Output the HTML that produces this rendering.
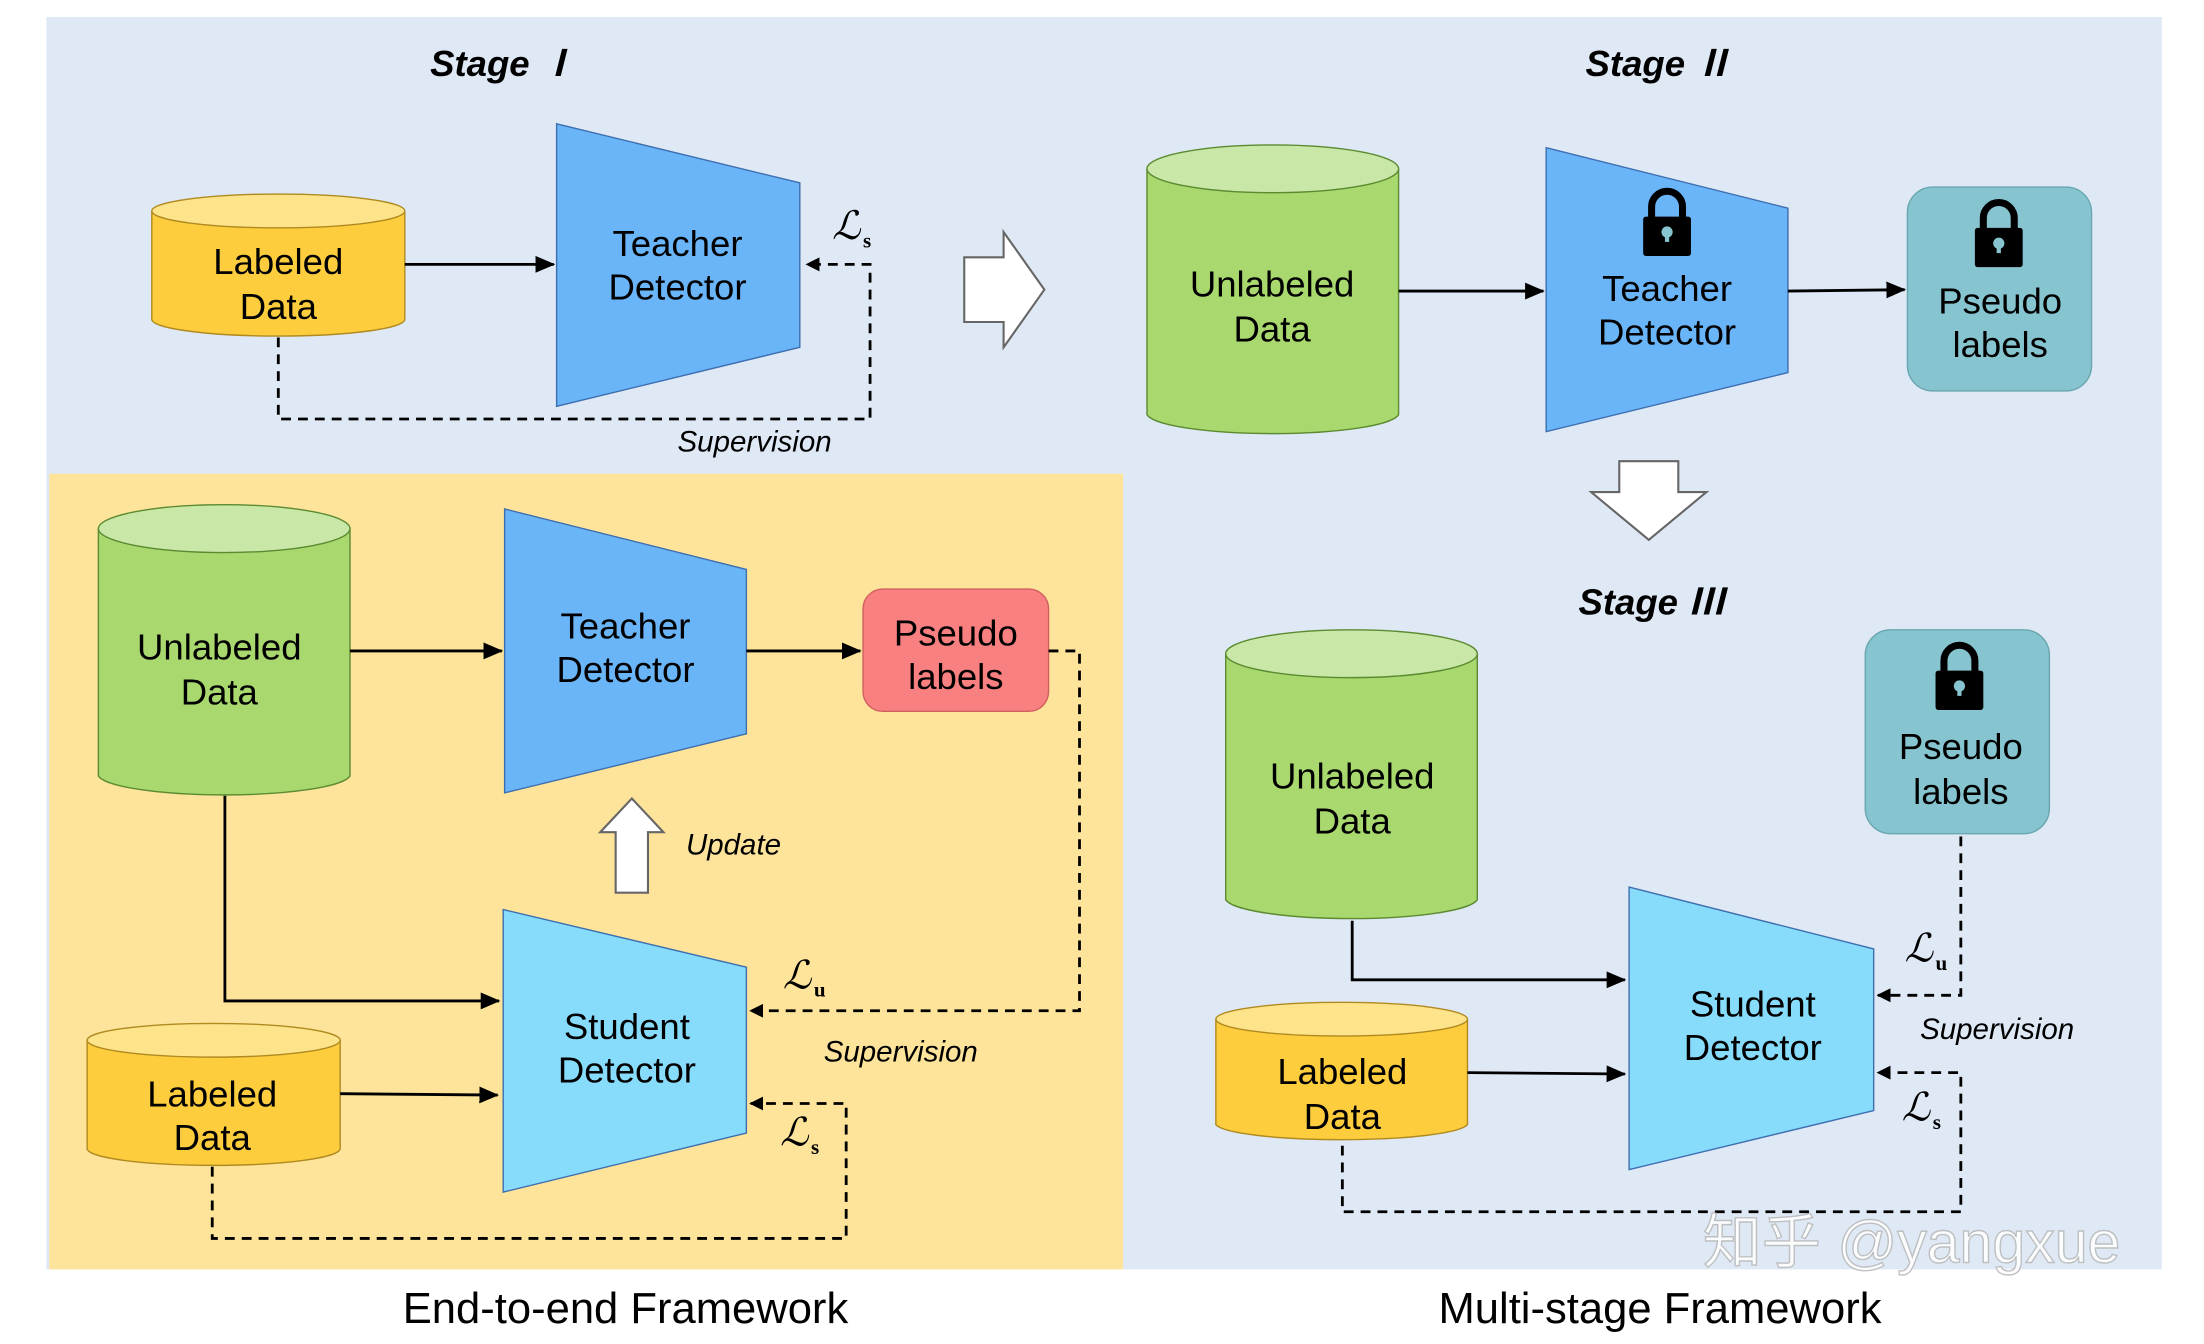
<!DOCTYPE html>
<html><head><meta charset="utf-8"><style>
html,body{margin:0;padding:0;background:#fff;}
svg{display:block;}
text{font-family:"Liberation Sans","Noto Sans CJK SC",sans-serif;}
.t{font-size:26px;text-anchor:middle;fill:#000;}
.it{font-style:italic;font-size:21px;fill:#000;}
.st{font-style:italic;font-weight:bold;font-size:26px;text-anchor:middle;}
.L{font-family:"Liberation Serif",serif;font-style:italic;font-size:28px;}
.sub{font-family:"Liberation Serif",serif;font-weight:bold;font-size:15px;}
</style></head><body>
<svg width="2204" height="1344" viewBox="0 0 1568 956" xmlns="http://www.w3.org/2000/svg">
<defs>
<marker id="a" markerWidth="10" markerHeight="10" refX="9" refY="5" orient="auto" markerUnits="userSpaceOnUse" viewBox="0 0 10 10"><path d="M0,0 L10,5 L0,10 z" fill="#000"/></marker>
<marker id="a2" markerWidth="14" markerHeight="12" refX="13" refY="6" orient="auto" markerUnits="userSpaceOnUse" viewBox="0 0 14 12"><path d="M0,0 L14,6 L0,12 z" fill="#000"/></marker>
<g id="lock">
<path d="M-11,0 V-8 A11,11 0 0 1 11,-8 V0" fill="none" stroke="#000" stroke-width="5"/>
<rect x="-17" y="-1" width="34" height="28" rx="2" fill="#000"/>
<circle cx="0" cy="10" r="4" fill="#86c5d0"/><rect x="-1.5" y="10" width="3" height="7" fill="#86c5d0"/>
</g>
</defs>
<rect x="0" y="0" width="1568" height="956" fill="#fff"/>
<rect x="33" y="12" width="1505" height="891" fill="#dfe9f5"/>
<rect x="35" y="337" width="764" height="566" fill="#fde49a"/>

<!-- Stage I -->
<text x="358" y="54" class="st">Stage Ⅰ</text>
<path d="M108,150 V227 A90,12 0 0 0 288,227 V150" fill="#fdcd3e" stroke="#b08a20" stroke-width="1"/>
<ellipse cx="198" cy="150" rx="90" ry="12" fill="#fde48a" stroke="#b08a20"/>
<text x="198" y="195" class="t">Labeled</text><text x="198" y="227" class="t">Data</text>
<polygon points="396,88 569,130 569,247 396,289" fill="#6ab4f8" stroke="#3d6fb0"/>
<text x="482" y="182" class="t">Teacher</text><text x="482" y="213" class="t">Detector</text>
<line x1="288" y1="188" x2="394" y2="188" stroke="#000" stroke-width="2" marker-end="url(#a2)"/>
<path d="M198,240 V298 H619 V188 H574" fill="none" stroke="#000" stroke-width="2" stroke-dasharray="7,5" marker-end="url(#a)"/>
<text x="592" y="170" class="L">ℒ</text><text x="614" y="176" class="sub">s</text>
<text x="482" y="321" class="it">Supervision</text>
<polygon points="686,183 714,183 714,165 743,206 714,247 714,229 686,229" fill="#fff" stroke="#666" stroke-width="1.5"/>

<!-- Stage II -->
<text x="1180" y="54" class="st">Stage Ⅱ</text>
<path d="M816,120 V295 A90,15 0 0 0 995,295 V120" fill="#a8d86e" stroke="#5b8a30"/>
<ellipse cx="905.5" cy="120" rx="89.5" ry="17" fill="#c9e8a8" stroke="#5b8a30"/>
<text x="905" y="211" class="t">Unlabeled</text><text x="905" y="243" class="t">Data</text>
<line x1="995" y1="207" x2="1098" y2="207" stroke="#000" stroke-width="2" marker-end="url(#a2)"/>
<polygon points="1100,105 1272,148 1272,265 1100,307" fill="#6ab4f8" stroke="#3d6fb0"/>
<use href="#lock" x="1186" y="155"/>
<text x="1186" y="214" class="t">Teacher</text><text x="1186" y="245" class="t">Detector</text>
<line x1="1272" y1="207" x2="1355" y2="206" stroke="#000" stroke-width="2" marker-end="url(#a2)"/>
<rect x="1357" y="133" width="131" height="145" rx="18" fill="#86c5d0" stroke="#6aa6b0"/>
<use href="#lock" x="1422" y="163"/>
<text x="1423" y="223" class="t">Pseudo</text><text x="1423" y="254" class="t">labels</text>
<polygon points="1152,328 1194,328 1194,350 1214,350 1173,384 1132,350 1152,350" fill="#fff" stroke="#666" stroke-width="1.5"/>

<!-- Stage III -->
<text x="1175" y="437" class="st">Stage Ⅲ</text>
<path d="M872,465 V640 A90,15 0 0 0 1051,640 V465" fill="#a8d86e" stroke="#5b8a30"/>
<ellipse cx="961.5" cy="465" rx="89.5" ry="17" fill="#c9e8a8" stroke="#5b8a30"/>
<text x="962" y="561" class="t">Unlabeled</text><text x="962" y="593" class="t">Data</text>
<rect x="1327" y="448" width="131" height="145" rx="18" fill="#86c5d0" stroke="#6aa6b0"/>
<use href="#lock" x="1394" y="478"/>
<text x="1395" y="540" class="t">Pseudo</text><text x="1395" y="572" class="t">labels</text>
<path d="M865,725 V800 A90,12 0 0 0 1044,800 V725" fill="#fdcd3e" stroke="#b08a20"/>
<ellipse cx="954.5" cy="725" rx="89.5" ry="12" fill="#fde48a" stroke="#b08a20"/>
<text x="955" y="771" class="t">Labeled</text><text x="955" y="803" class="t">Data</text>
<polygon points="1159,631 1333,675 1333,790 1159,832" fill="#87dcfc" stroke="#3d6fb0"/>
<text x="1247" y="723" class="t">Student</text><text x="1247" y="754" class="t">Detector</text>
<path d="M962,655 V697 H1156" fill="none" stroke="#000" stroke-width="2" marker-end="url(#a2)"/>
<line x1="1044" y1="763" x2="1156" y2="764" stroke="#000" stroke-width="2" marker-end="url(#a2)"/>
<path d="M1395,595 V708 H1336" fill="none" stroke="#000" stroke-width="2" stroke-dasharray="7,5" marker-end="url(#a)"/>
<path d="M955,815 V862 H1395 V763 H1336" fill="none" stroke="#000" stroke-width="2" stroke-dasharray="7,5" marker-end="url(#a)"/>
<text x="1355" y="684" class="L">ℒ</text><text x="1377" y="690" class="sub">u</text>
<text x="1366" y="739" class="it">Supervision</text>
<text x="1353" y="797" class="L">ℒ</text><text x="1375" y="803" class="sub">s</text>
<text x="1360" y="898" style="font-size:42px;fill:#fff;stroke:#bbb;stroke-width:1;text-anchor:middle;opacity:0.9">知乎 @yangxue</text>

<!-- End-to-end -->
<path d="M70,376 V552 A90,15 0 0 0 249,552 V376" fill="#a8d86e" stroke="#5b8a30"/>
<ellipse cx="159.5" cy="376" rx="89.5" ry="17" fill="#c9e8a8" stroke="#5b8a30"/>
<text x="156" y="469" class="t">Unlabeled</text><text x="156" y="501" class="t">Data</text>
<polygon points="359,362 531,405 531,522 359,564" fill="#6ab4f8" stroke="#3d6fb0"/>
<text x="445" y="454" class="t">Teacher</text><text x="445" y="485" class="t">Detector</text>
<line x1="249" y1="463" x2="357" y2="463" stroke="#000" stroke-width="2" marker-end="url(#a2)"/>
<line x1="531" y1="463" x2="612" y2="463" stroke="#000" stroke-width="2" marker-end="url(#a2)"/>
<rect x="614" y="419" width="132" height="87" rx="14" fill="#f88080" stroke="#d06060"/>
<text x="680" y="459" class="t">Pseudo</text><text x="680" y="490" class="t">labels</text>
<path d="M746,463 H768 V719 H534" fill="none" stroke="#000" stroke-width="2" stroke-dasharray="7,5" marker-end="url(#a)"/>
<polygon points="438,635 461,635 461,592 472,592 449.5,568 427,592 438,592" fill="#fff" stroke="#666" stroke-width="1.5"/>
<text x="488" y="608" class="it">Update</text>
<polygon points="358,647 531,688 531,806 358,848" fill="#87dcfc" stroke="#3d6fb0"/>
<text x="446" y="739" class="t">Student</text><text x="446" y="770" class="t">Detector</text>
<path d="M160,566 V712 H355" fill="none" stroke="#000" stroke-width="2" marker-end="url(#a2)"/>
<path d="M62,740 V817 A90,12 0 0 0 242,817 V740" fill="#fdcd3e" stroke="#b08a20"/>
<ellipse cx="152" cy="740" rx="90" ry="12" fill="#fde48a" stroke="#b08a20"/>
<text x="151" y="787" class="t">Labeled</text><text x="151" y="818" class="t">Data</text>
<line x1="242" y1="778" x2="354" y2="779" stroke="#000" stroke-width="2" marker-end="url(#a2)"/>
<path d="M151,830 V881 H602 V785 H534" fill="none" stroke="#000" stroke-width="2" stroke-dasharray="7,5" marker-end="url(#a)"/>
<text x="557" y="703" class="L">ℒ</text><text x="579" y="709" class="sub">u</text>
<text x="586" y="755" class="it">Supervision</text>
<text x="555" y="815" class="L">ℒ</text><text x="577" y="821" class="sub">s</text>

<text x="445" y="941" style="font-size:31px;text-anchor:middle">End-to-end Framework</text>
<text x="1181" y="941" style="font-size:31px;text-anchor:middle">Multi-stage Framework</text>
</svg>
</body></html>
